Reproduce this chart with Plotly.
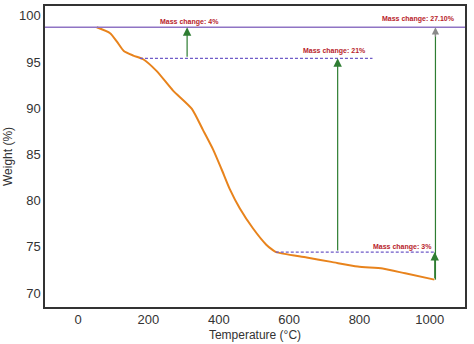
import plotly.graph_objects as go

# TGA curve: temperature (°C) vs remaining weight (%)
temperature = [53, 91, 110, 130, 157, 185, 223, 270, 323, 355, 384, 408, 431,
               460, 497, 535, 552, 563, 650, 720, 795, 866, 930, 1013]
weight = [98.76, 98.12, 97.23, 96.2, 95.7, 95.3, 94.04, 91.91, 89.96, 87.66,
          85.53, 83.40, 81.28, 79.15, 77.02, 75.24, 74.7, 74.44, 73.85, 73.38,
          72.87, 72.66, 72.14, 71.46]

# Reference weight levels
initial_level = 98.76
stage1_level = 95.4
stage2_level = 74.44
final_level = 71.46

# Mass-change labels: text, label position, arrow position
labels = ["Mass change: 4%", "Mass change: 21%", "Mass change: 3%", "Mass change: 27.10%"]
label_x = [316, 728, 922, 969]
label_y = [99.36, 96.17, 75.0, 99.68]
arrow_x = [310, 738, 1014, 1016]
arrow_from = [stage1_level, stage2_level, final_level, final_level]
arrow_to = [initial_level, stage1_level, stage2_level, initial_level]

x_ticks = [0, 200, 400, 600, 800, 1000]
y_ticks = [70, 75, 80, 85, 90, 95, 100]

fig = go.Figure()

fig.add_trace(go.Scatter(
    x=temperature, y=weight, mode="lines",
    line=dict(color="#E8831C", width=2, shape="spline", smoothing=0.6),
    showlegend=False, hoverinfo="skip"))

green = "#2E7D32"
purple = "#8F74C4"
dash_col = "#6F5BC8"

shapes = [
    dict(type="line", xref="paper", yref="y", x0=0, x1=1, y0=initial_level, y1=initial_level,
         line=dict(color=purple, width=1.6)),
    dict(type="line", xref="x", yref="y", x0=176, x1=837, y0=stage1_level, y1=stage1_level,
         line=dict(color=dash_col, width=1.2, dash="3px,2px")),
    dict(type="line", xref="x", yref="y", x0=562, x1=1015, y0=stage2_level, y1=stage2_level,
         line=dict(color=dash_col, width=1.2, dash="3px,2px")),
    # shaft of the overall mass-change arrow
    dict(type="line", xref="x", yref="y", x0=arrow_x[3], x1=arrow_x[3],
         y0=final_level, y1=initial_level - 0.5,
         line=dict(color=green, width=1.2)),
]

annotations = []
for i in range(3):
    annotations.append(dict(
        x=arrow_x[i], y=arrow_to[i], ax=arrow_x[i], ay=arrow_from[i],
        xref="x", yref="y", axref="x", ayref="y", text="", showarrow=True,
        arrowhead=2, arrowsize=1.4, arrowwidth=1.2, arrowcolor=green))
# grey head on the overall arrow
annotations.append(dict(
    x=arrow_x[3], y=arrow_to[3], ax=arrow_x[3], ay=arrow_to[3] - 1.2,
    xref="x", yref="y", axref="x", ayref="y", text="", showarrow=True,
    arrowhead=2, arrowsize=1.2, arrowwidth=1.2, arrowcolor="#8A8A8A"))

for t, lx, ly in zip(labels, label_x, label_y):
    annotations.append(dict(
        x=lx, y=ly, xref="x", yref="y", text="<b>" + t + "</b>", showarrow=False,
        font=dict(family="Liberation Sans, Arial", size=7, color="#B8232B")))

fig.update_layout(
    width=474, height=344,
    margin=dict(l=45, r=9, t=4, b=34),
    paper_bgcolor="white", plot_bgcolor="white",
    font=dict(family="Liberation Sans, Arial", color="#333333"),
    shapes=shapes, annotations=annotations,
    xaxis=dict(range=[-94, 1100], tickvals=x_ticks, showgrid=False, zeroline=False,
               showline=True, mirror=True, linecolor="#333333", linewidth=1.5,
               ticks="", tickfont=dict(size=13),
               title=dict(text="Temperature (°C)", font=dict(size=12), standoff=4)),
    yaxis=dict(range=[68.5, 101.06], tickvals=y_ticks, showgrid=False, zeroline=False,
               showline=True, mirror=True, linecolor="#333333", linewidth=1.5,
               ticks="", tickfont=dict(size=13),
               title=dict(text="Weight (%)", font=dict(size=12), standoff=4)),
)

fig.write_html("out.html")
